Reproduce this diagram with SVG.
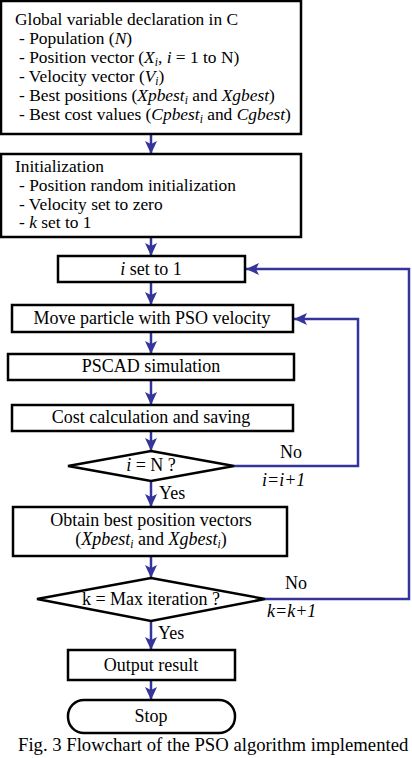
<svg xmlns="http://www.w3.org/2000/svg" width="412" height="758" viewBox="0 0 412 758">
<defs>
<marker id="ah" markerUnits="userSpaceOnUse" markerWidth="14" markerHeight="14" viewBox="0 0 14 14" refX="13" refY="7" orient="auto">
<path d="M0,1 L13,7 L0,13 L3,7 Z" fill="#34349a"/>
</marker>
<style>
text{font-size:18px;fill:#000}
.m{font-size:17.4px}
.c{text-anchor:middle}
.it{font-style:italic}
.sub{font-size:11.5px;font-style:italic}
.box{fill:#fff;stroke:#000;stroke-width:2.5}
.con{fill:none;stroke:#34349a;stroke-width:2.5}
.arr{marker-end:url(#ah)}
</style>
</defs>
<rect width="412" height="758" fill="#fff"/>
<g font-family="Liberation Serif, DejaVu Serif, serif">
<g id="connectors">
<line class="con arr" x1="151" y1="135" x2="151" y2="154"/>
<line class="con arr" x1="151" y1="238" x2="151" y2="256"/>
<line class="con arr" x1="151" y1="283" x2="151" y2="305"/>
<line class="con arr" x1="151" y1="333" x2="151" y2="354"/>
<line class="con arr" x1="151" y1="381" x2="151" y2="405"/>
<line class="con arr" x1="151" y1="432" x2="151" y2="451"/>
<line class="con arr" x1="151" y1="481" x2="151" y2="507"/>
<line class="con arr" x1="151" y1="557" x2="151" y2="578"/>
<line class="con arr" x1="151" y1="621" x2="151" y2="650"/>
<line class="con arr" x1="151" y1="681" x2="151" y2="700"/>
<polyline class="con arr" points="234,466 358,466 358,319 294,319"/>
<polyline class="con arr" points="265,599 409,599 409,269 246,269"/>
<text x="280" y="458">No</text>
<text x="262" y="486" class="it">i=i+1</text>
<text x="159" y="499">Yes</text>
<text x="285" y="589">No</text>
<text x="267" y="617" class="it">k=k+1</text>
<text x="158" y="639">Yes</text>
</g>
<g id="n1">
<rect class="box" x="1" y="1" width="300" height="133"/>
<text class="m" x="15" y="25">Global variable declaration in C</text>
<text class="m" x="19" y="44">- Population (<tspan class="it">N</tspan>)</text>
<text class="m" x="19" y="63">- Position vector (<tspan class="it">X</tspan><tspan class="sub" dy="3">i</tspan><tspan dy="-3">, </tspan><tspan class="it">i</tspan> = 1 to N)</text>
<text class="m" x="19" y="82">- Velocity vector (<tspan class="it">V</tspan><tspan class="sub" dy="3">i</tspan><tspan dy="-3">)</tspan></text>
<text class="m" x="19" y="101">- Best positions (<tspan class="it">Xpbest</tspan><tspan class="sub" dy="3">i</tspan><tspan dy="-3"> and </tspan><tspan class="it">Xgbest</tspan>)</text>
<text class="m" x="19" y="120">- Best cost values (<tspan class="it">Cpbest</tspan><tspan class="sub" dy="3">i</tspan><tspan dy="-3"> and </tspan><tspan class="it">Cgbest</tspan>)</text>
</g>
<g id="n2">
<rect class="box" x="1" y="154" width="300" height="83"/>
<text class="m" x="15" y="172">Initialization</text>
<text class="m" x="19" y="191">- Position random initialization</text>
<text class="m" x="19" y="210">- Velocity set to zero</text>
<text class="m" x="19" y="228">- <tspan class="it">k</tspan> set to 1</text>
</g>
<g id="n3">
<rect class="box" x="58" y="256" width="187" height="26"/>
<text x="151" y="275" class="c"><tspan class="it">i</tspan> set to 1</text>
</g>
<g id="n4">
<rect class="box" x="12" y="305" width="281" height="27"/>
<text x="152" y="324" class="c">Move particle with PSO velocity</text>
</g>
<g id="n5">
<rect class="box" x="8" y="354" width="286" height="26"/>
<text x="151" y="372" class="c">PSCAD simulation</text>
</g>
<g id="n6">
<rect class="box" x="12" y="405" width="281" height="26"/>
<text x="151" y="423" class="c">Cost calculation and saving</text>
</g>
<g id="n7">
<polygon class="box" points="151,451 234,466 151,481 68,466"/>
<text x="151" y="471" class="c"><tspan class="it">i</tspan> = N ?</text>
</g>
<g id="n8">
<rect class="box" x="13" y="507" width="274" height="49"/>
<text x="151" y="526" class="c">Obtain best position vectors</text>
<text x="151" y="545" class="c">(<tspan class="it">Xpbest</tspan><tspan class="sub" dy="3">i</tspan><tspan dy="-3"> and </tspan><tspan class="it">Xgbest</tspan><tspan class="sub" dy="3">i</tspan><tspan dy="-3">)</tspan></text>
</g>
<g id="n9">
<polygon class="box" points="151,578 265,599 151,621 37,599"/>
<text x="151" y="605" class="c">k = Max iteration ?</text>
</g>
<g id="n10">
<rect class="box" x="68" y="650" width="167" height="30"/>
<text x="151" y="671" class="c">Output result</text>
</g>
<g id="n11">
<rect class="box" x="68" y="700" width="167" height="33" rx="16"/>
<text x="151" y="722" class="c">Stop</text>
</g>
<text x="18" y="751" style="font-size:18.7px">Fig. 3 Flowchart of the PSO algorithm implemented</text>
</g>
</svg>
